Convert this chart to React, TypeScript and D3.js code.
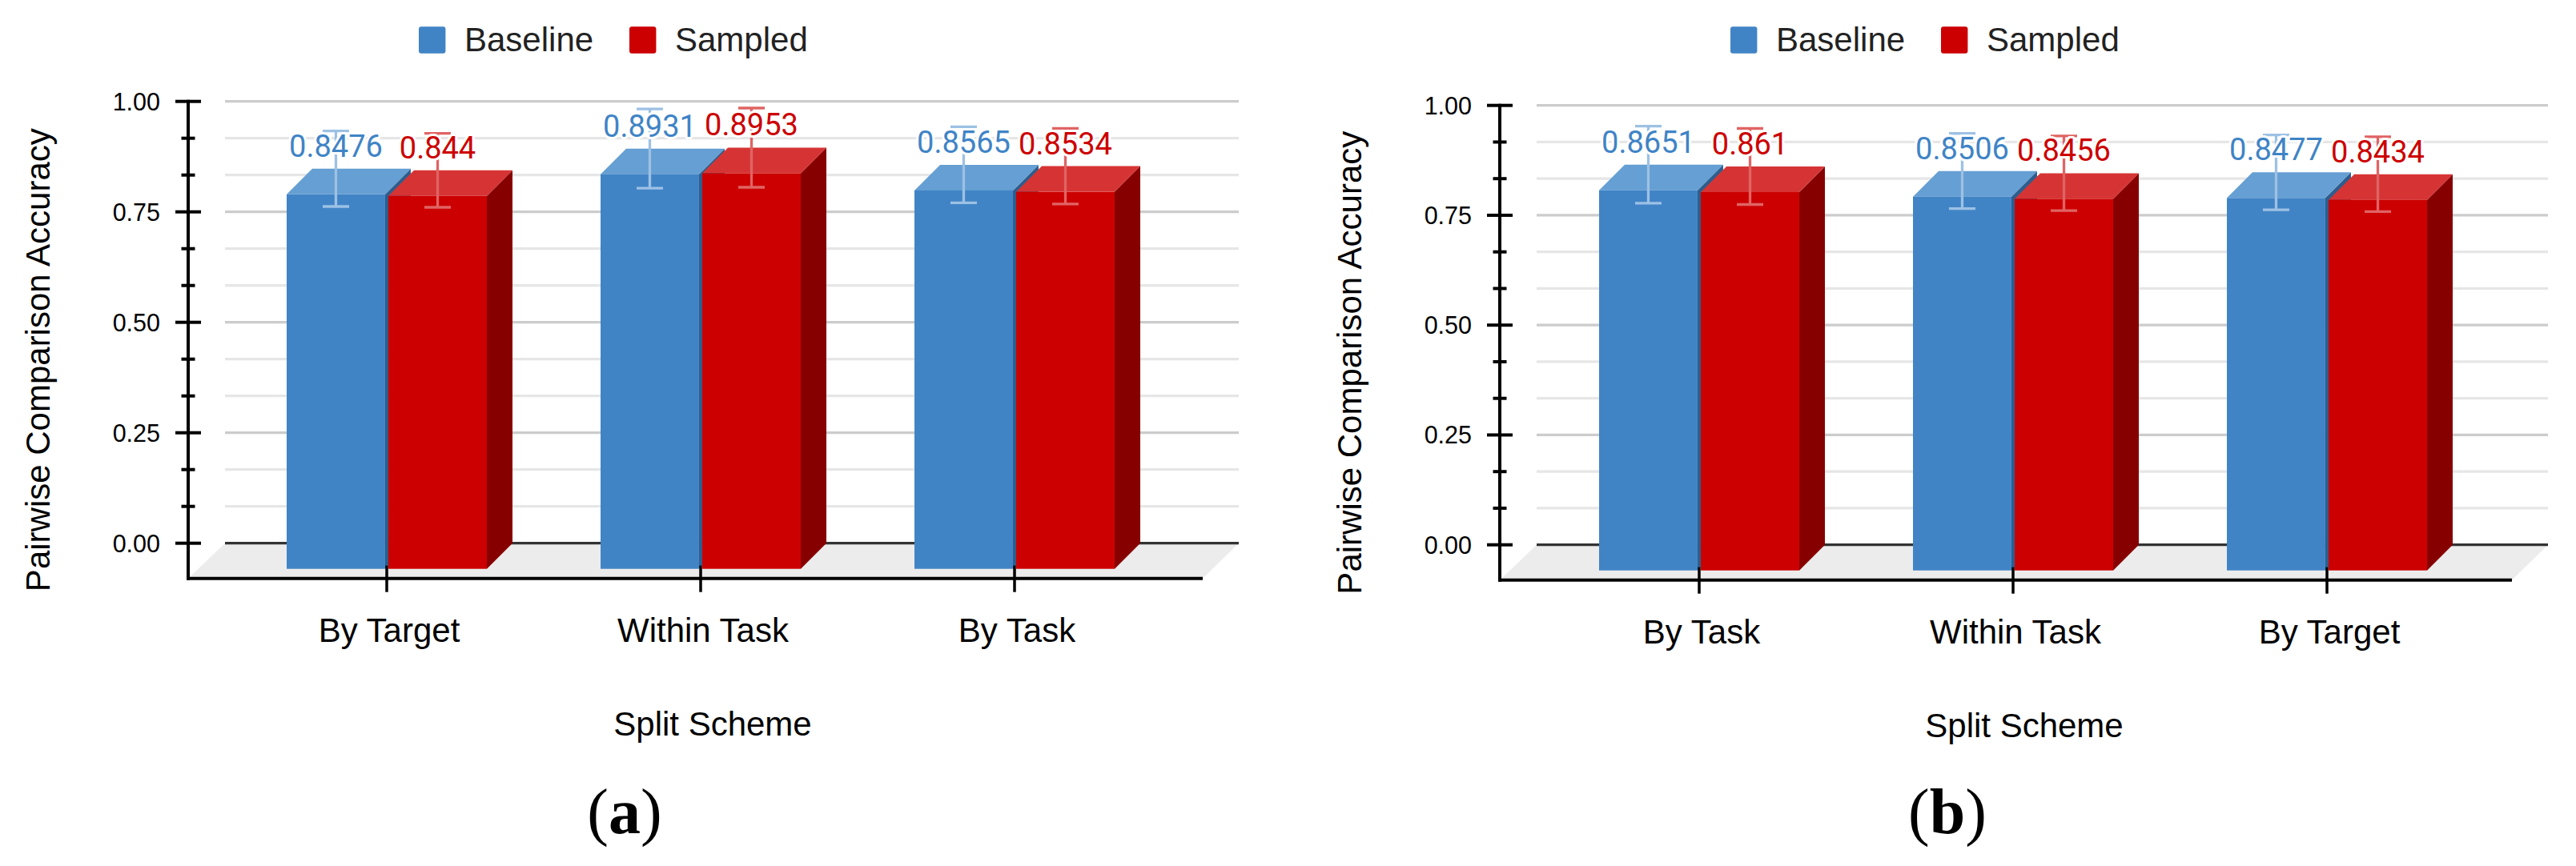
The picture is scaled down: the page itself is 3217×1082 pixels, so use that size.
import React from "react";
import * as d3 from "d3";

const seriesNames = ["Baseline", "Sampled"];

const categoriesA = ["By Target", "Within Task", "By Task"];
const baselineA = [0.8476, 0.8931, 0.8565];
const sampledA = [0.844, 0.8953, 0.8534];
const baselineErrA = [0.0855, 0.0897, 0.086];
const sampledErrA = [0.0837, 0.0897, 0.0857];

const categoriesB = ["By Task", "Within Task", "By Target"];
const baselineB = [0.8651, 0.8506, 0.8477];
const sampledB = [0.861, 0.8456, 0.8434];
const baselineErrB = [0.0877, 0.0856, 0.0852];
const sampledErrB = [0.0865, 0.085, 0.0852];

const majorTicks = [0, 0.25, 0.5, 0.75, 1];
const tickLabels = ["0.00", "0.25", "0.50", "0.75", "1.00"];
const xTitle = "Split Scheme";
const yTitle = "Pairwise Comparison Accuracy";

const COLORS = {
  front: ["#4184c6", "#cc0000"],
  top: ["#659fd3", "#d63434"],
  side: ["#2d5e8e", "#870000"],
  err: ["#9dc1e4", "#e06464"],
  label: ["#3f84c6", "#cc0000"],
};

const SANS = "'Liberation Sans', Arial, sans-serif";
const LABEL_FONT = "Roboto, 'Liberation Sans', sans-serif";
const SERIF = "'Liberation Serif', 'Times New Roman', serif";

type ChartProps = {
  categories: string[];
  values: number[][];
  errors: number[][];
  axisX: number;
  backX0: number;
  backX1: number;
  zeroY: number;
  topY: number;
  xRange: [number, number];
  legendX: number;
  titleX: number;
  yTitleX: number;
  panelX: number;
  panelLabel: string;
};

const DEPTH = 32; // bar depth offset
const FLOOR = 44; // floor depth

function Chart(p: ChartProps) {
  const y = d3.scaleLinear().domain([0, 1]).range([p.zeroY, p.topY]);
  const x0 = d3.scalePoint<string>().domain(p.categories).range(p.xRange).padding(0.5);
  const half = 125;
  const x1 = d3
    .scaleBand<string>()
    .domain(seriesNames)
    .range([-half, half])
    .paddingInner(0.032);
  const bw = x1.bandwidth();
  const grid = d3.range(0, 13).map((i) => i / 12);
  const minor = grid.filter((g) => !majorTicks.some((m) => Math.abs(m - g) < 1e-6));
  const floorY = p.zeroY + FLOOR;
  const frontX1 = p.backX1 - FLOOR - 1;

  const bars: JSX.Element[] = [];
  const errs: JSX.Element[] = [];
  const labels: JSX.Element[] = [];
  p.categories.forEach((c, ci) => {
    const cx = x0(c)!;
    seriesNames.forEach((s, si) => {
      const v = p.values[si][ci];
      const e = p.errors[si][ci];
      const fx = cx + x1(s)!;
      const fTop = y(v) + DEPTH;
      const fBot = p.zeroY + DEPTH;
      const bx = fx + DEPTH;
      const bTop = y(v);
      bars.push(
        <g key={`bar-${ci}-${si}`}>
          <polygon
            points={`${fx + bw},${fTop} ${bx + bw},${bTop} ${bx + bw},${bTop + (fBot - fTop)} ${fx + bw},${fBot}`}
            fill={COLORS.side[si]}
          />
          <polygon
            points={`${fx},${fTop} ${bx},${bTop} ${bx + bw},${bTop} ${fx + bw},${fTop}`}
            fill={COLORS.top[si]}
          />
          <rect x={fx} y={fTop} width={bw} height={fBot - fTop} fill={COLORS.front[si]} />
        </g>
      );
      const ex = fx + bw / 2;
      const yt = y(v + e);
      const yb = y(v - e);
      errs.push(
        <g key={`err-${ci}-${si}`} stroke={COLORS.err[si]} strokeWidth={3.3}>
          <line x1={ex} x2={ex} y1={yt} y2={yb} />
          <line x1={ex - 16.5} x2={ex + 16.5} y1={yt} y2={yt} />
          <line x1={ex - 16.5} x2={ex + 16.5} y1={yb} y2={yb} />
        </g>
      );
      labels.push(
        <text
          key={`lab-${ci}-${si}`}
          x={ex}
          y={y(v) - 15}
          textAnchor="middle"
          fontFamily={LABEL_FONT}
          fontSize={38}
          fill={COLORS.label[si]}
          stroke="#ffffff"
          strokeWidth={6}
          strokeLinejoin="round"
          paintOrder="stroke"
        >
          {String(v)}
        </text>
      );
    });
  });

  return (
    <g>
      {/* legend */}
      {seriesNames.map((s, si) => {
        const lx = p.legendX + si * 263;
        return (
          <g key={`leg-${s}`}>
            <rect x={lx} y={33.3} width={33.4} height={33.4} rx={3} fill={COLORS.front[si]} />
            <text x={lx + 57} y={64.3} fontFamily={SANS} fontSize={42} fill="#222222">
              {s}
            </text>
          </g>
        );
      })}
      {/* gridlines */}
      {minor.map((g) => (
        <line key={`mg-${g}`} x1={p.backX0} x2={p.backX1} y1={y(g)} y2={y(g)} stroke="#e6e6e6" strokeWidth={3.3} />
      ))}
      {majorTicks
        .filter((g) => g > 0)
        .map((g) => (
          <line key={`Mg-${g}`} x1={p.backX0} x2={p.backX1} y1={y(g)} y2={y(g)} stroke="#cccccc" strokeWidth={3.3} />
        ))}
      {/* floor */}
      <polygon
        points={`${p.backX0},${p.zeroY} ${p.backX1},${p.zeroY} ${frontX1},${floorY} ${p.axisX},${floorY}`}
        fill="#ececec"
      />
      <line x1={p.backX0} x2={p.backX1} y1={p.zeroY} y2={p.zeroY} stroke="#333333" strokeWidth={3.3} />
      {/* bars */}
      {bars}
      {errs}
      {labels}
      {/* y axis */}
      <line x1={p.axisX} x2={p.axisX} y1={y(1) - 2} y2={floorY + 2} stroke="#000" strokeWidth={4} />
      {grid.map((g) => {
        const isMajor = majorTicks.some((m) => Math.abs(m - g) < 1e-6);
        const len = isMajor ? 16 : 8.5;
        return (
          <line
            key={`yt-${g}`}
            x1={p.axisX - len}
            x2={p.axisX + len}
            y1={y(g)}
            y2={y(g)}
            stroke="#000"
            strokeWidth={4}
          />
        );
      })}
      {majorTicks.map((t, i) => (
        <text
          key={`ytl-${t}`}
          x={p.axisX - 35}
          y={y(t) + 11}
          textAnchor="end"
          fontFamily={SANS}
          fontSize={30.5}
          fill="#000"
        >
          {tickLabels[i]}
        </text>
      ))}
      {/* x axis */}
      <line x1={p.axisX - 2} x2={frontX1} y1={floorY} y2={floorY} stroke="#000" strokeWidth={4} />
      {p.categories.map((c) => (
        <g key={`xt-${c}`}>
          <line x1={x0(c)!} x2={x0(c)!} y1={p.zeroY + 28} y2={floorY + 17} stroke="#000" strokeWidth={3.5} />
          <text
            x={x0(c)! + 3}
            y={p.zeroY + 123.5}
            textAnchor="middle"
            fontFamily={SANS}
            fontSize={42}
            fill="#000"
          >
            {c}
          </text>
        </g>
      ))}
      {/* titles */}
      <text
        x={p.titleX}
        y={p.zeroY + 240}
        textAnchor="middle"
        fontFamily={SANS}
        fontSize={42}
        fill="#000"
      >
        {xTitle}
      </text>
      <text
        transform={`translate(${p.yTitleX},${(p.topY + floorY) / 2 + 25}) rotate(-90)`}
        textAnchor="middle"
        fontFamily={SANS}
        fontSize={42}
        fill="#000"
      >
        {yTitle}
      </text>
      <text x={p.panelX} y={1041} textAnchor="middle" fontFamily={SERIF} fontSize={80} fill="#000">
        <tspan>(</tspan>
        <tspan fontWeight="bold">{p.panelLabel.replace(/[()]/g, "")}</tspan>
        <tspan>)</tspan>
      </text>
    </g>
  );
}

export default function App() {
  React.useEffect(() => {
    document.body.style.margin = "0";
  }, []);
  return (
    <svg
      width={3217}
      height={1082}
      viewBox="0 0 3217 1082"
      style={{ position: "absolute", left: 0, top: 0, background: "#fff" }}
    >
      <rect x={0} y={0} width={3217} height={1082} fill="#fff" />
      <Chart
        categories={categoriesA}
        values={[baselineA, sampledA]}
        errors={[baselineErrA, sampledErrA]}
        axisX={235}
        backX0={281}
        backX1={1547}
        zeroY={678.7}
        topY={126.7}
        xRange={[287, 1463]}
        legendX={523}
        titleX={890}
        yTitleX={62}
        panelX={780}
        panelLabel="(a)"
      />
      <Chart
        categories={categoriesB}
        values={[baselineB, sampledB]}
        errors={[baselineErrB, sampledErrB]}
        axisX={1873}
        backX0={1919}
        backX1={3182}
        zeroY={680.7}
        topY={131.7}
        xRange={[1926, 3102]}
        legendX={2161}
        titleX={2528}
        yTitleX={1700}
        panelX={2432}
        panelLabel="(b)"
      />
    </svg>
  );
}
